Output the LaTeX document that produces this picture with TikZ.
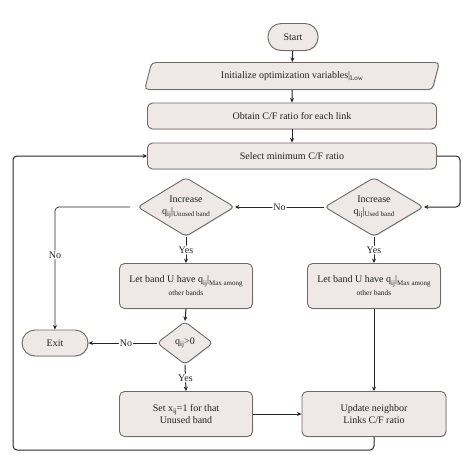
\documentclass[tikz,border=0pt]{standalone}
\usepackage{fontspec}
\setmainfont{Liberation Serif}
\usetikzlibrary{shapes.geometric,arrows.meta,shadows}
\newcommand\mysb[1]{\raisebox{-0.45ex}{\fontsize{7}{8}\selectfont #1}}
\begin{document}
\begin{tikzpicture}[x=1pt,y=-1pt,
  font=\fontsize{10}{12}\selectfont,
  boxfill/.style={fill=boxbg, draw=boxline, line width=0.9pt, text=txt,
    drop shadow={opacity=0.25, shadow xshift=0.8pt, shadow yshift=-0.8pt}},
  procbox/.style={boxfill, rectangle, rounded corners=5pt, align=center, inner sep=1pt},
  termbox/.style={boxfill, rectangle, rounded corners=13pt, align=center},
  iobox/.style={boxfill, trapezium, trapezium left angle=72, trapezium right angle=108,
    trapezium stretches=true, rounded corners=4pt, inner sep=1pt},
  decbox/.style={boxfill, diamond, aspect=1.65, inner sep=0pt, rounded corners=4pt, align=center},
  conn/.style={draw=lin, line width=1pt, rounded corners=4pt},
  arr/.style={conn, -{Stealth[length=4.5pt,width=4pt]}},
  lab/.style={fill=white, inner sep=1pt, text=txt}
]
\definecolor{boxbg}{HTML}{EEE8E6}
\definecolor{boxline}{HTML}{6E6A68}
\definecolor{lin}{HTML}{262626}
\definecolor{txt}{HTML}{222222}
\useasboundingbox (0,0) rectangle (474,474);

\node[termbox, minimum width=50pt, minimum height=27pt] (start) at (293,37) {Start};
\node[iobox, minimum width=295pt, minimum height=27pt] (init) at (292,76)
  {Initialize optimization variables\textbar\mysb{Low}};
\node[procbox, minimum width=289pt, minimum height=26pt] (obtain) at (292,116)
  {Obtain C/F ratio for each link};
\node[procbox, minimum width=289pt, minimum height=26pt] (select) at (292,156)
  {Select minimum C/F ratio};
\node[decbox, minimum width=99pt, minimum height=59pt] (ud) at (374,207)
  {Increase\\q\mysb{ij}\textbar\mysb{Used band}};
\node[decbox, minimum width=97pt, minimum height=59pt] (un) at (186,207)
  {Increase\\q\mysb{ij}\textbar\mysb{Unused band}};
\node[procbox, minimum width=133pt, minimum height=45pt] (letL) at (186,286)
  {Let band U have q\mysb{ij}\textbar\mysb{Max among}\\[1pt]{\fontsize{7.5}{9}\selectfont other bands}};
\node[procbox, minimum width=133pt, minimum height=45pt] (letR) at (374,286)
  {Let band U have q\mysb{ij}\textbar\mysb{Max among}\\[1pt]{\fontsize{7.5}{9}\selectfont other bands}};
\node[termbox, minimum width=66pt, minimum height=26pt] (exit) at (55,343) {Exit};
\node[decbox, minimum width=56pt, minimum height=43pt] (qd) at (185,343)
  {q\mysb{ij}{>}0};
\node[procbox, minimum width=133pt, minimum height=45pt] (set) at (186,414)
  {Set x\mysb{ij}=1 for that\\Unused band};
\node[procbox, minimum width=144pt, minimum height=45pt] (upd) at (374,414)
  {Update neighbor\\Links C/F ratio};

\coordinate (rtop) at (460,156);
\coordinate (rbot) at (460,207);
\coordinate (lcorner) at (55,207);
\coordinate (bR) at (374,450);
\coordinate (bL) at (13,450);
\coordinate (tL) at (13,156);

\draw[arr] (start) -- (init);
\draw[arr] (init) -- (obtain);
\draw[arr] (obtain) -- (select);
\draw[arr] (select.east) -- (rtop) -- (rbot) -- (ud.east);
\draw[arr] (ud.west) -- node[lab]{No} (un.east);
\draw[arr, shorten <=7pt, line width=0.7pt] (un.west) -- (lcorner) -- node[lab, pos=0.39]{No} (exit.north);
\draw[arr] (un.south) -- node[lab, pos=0.5]{Yes} (letL.north);
\draw[arr] (letL.south) -- (qd.north);
\draw[arr] (qd.west) -- node[lab, pos=0.45]{No} (exit.east);
\draw[arr] (qd.south) -- node[lab, pos=0.5]{Yes} (set.north);
\draw[arr] (set.east) -- (upd.west);
\draw[arr] (ud.south) -- node[lab, pos=0.5]{Yes} (letR.north);
\draw[arr] (letR.south) -- (upd.north);
\draw[arr] (upd.south) -- (bR) -- (bL) -- (tL) -- (select.west);
\end{tikzpicture}
\end{document}
